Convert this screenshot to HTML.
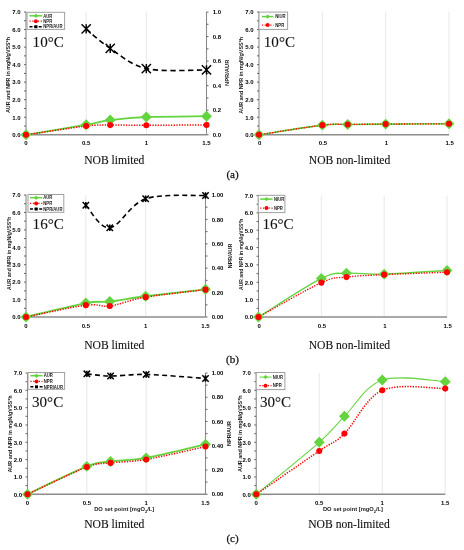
<!DOCTYPE html>
<html><head><meta charset="utf-8"><style>
html,body{margin:0;padding:0;background:#fff;}
svg{display:block;}
text{-webkit-font-smoothing:antialiased;}
svg{will-change:transform;}
.tk{font-family:"Liberation Sans",sans-serif;font-weight:bold;font-size:6px;fill:#000;}
.tt{font-family:"Liberation Sans",sans-serif;font-weight:bold;font-size:5.9px;fill:#1a1a1a;}
.do{font-family:"Liberation Sans",sans-serif;font-weight:bold;font-size:5.75px;fill:#1a1a1a;}
.lg{font-family:"Liberation Sans",sans-serif;font-weight:bold;font-size:4.9px;fill:#1a1a1a;}
.tmp{font-family:"Liberation Serif",serif;font-size:15.1px;fill:#111;stroke:#111;stroke-width:0.1px;}
.nob{font-family:"Liberation Serif",serif;font-size:11.6px;fill:#111;stroke:#111;stroke-width:0.12px;}
.pl{font-family:"Liberation Serif",serif;font-size:11px;fill:#111;stroke:#111;stroke-width:0.25px;}
</style></head><body>
<svg width="464" height="550" viewBox="0 0 464 550">
<rect width="464" height="550" fill="#fff"/>
<g>
<line x1="86.17" y1="12" x2="86.17" y2="134.8" stroke="#e2e2e2" stroke-width="0.8"/>
<line x1="146.33" y1="12" x2="146.33" y2="134.8" stroke="#e2e2e2" stroke-width="0.8"/>
<line x1="26" y1="12" x2="26" y2="134.8" stroke="#8c8c8c" stroke-width="1.1"/>
<line x1="24" y1="134.8" x2="26" y2="134.8" stroke="#555" stroke-width="0.9"/>
<line x1="24" y1="126.03" x2="26" y2="126.03" stroke="#555" stroke-width="0.9"/>
<line x1="24" y1="117.26" x2="26" y2="117.26" stroke="#555" stroke-width="0.9"/>
<line x1="24" y1="108.49" x2="26" y2="108.49" stroke="#555" stroke-width="0.9"/>
<line x1="24" y1="99.71" x2="26" y2="99.71" stroke="#555" stroke-width="0.9"/>
<line x1="24" y1="90.94" x2="26" y2="90.94" stroke="#555" stroke-width="0.9"/>
<line x1="24" y1="82.17" x2="26" y2="82.17" stroke="#555" stroke-width="0.9"/>
<line x1="24" y1="73.4" x2="26" y2="73.4" stroke="#555" stroke-width="0.9"/>
<line x1="24" y1="64.63" x2="26" y2="64.63" stroke="#555" stroke-width="0.9"/>
<line x1="24" y1="55.86" x2="26" y2="55.86" stroke="#555" stroke-width="0.9"/>
<line x1="24" y1="47.09" x2="26" y2="47.09" stroke="#555" stroke-width="0.9"/>
<line x1="24" y1="38.31" x2="26" y2="38.31" stroke="#555" stroke-width="0.9"/>
<line x1="24" y1="29.54" x2="26" y2="29.54" stroke="#555" stroke-width="0.9"/>
<line x1="24" y1="20.77" x2="26" y2="20.77" stroke="#555" stroke-width="0.9"/>
<line x1="24" y1="12" x2="26" y2="12" stroke="#555" stroke-width="0.9"/>
<text x="20.5" y="137.1" class="tk" text-anchor="end">0.0</text>
<text x="20.5" y="119.56" class="tk" text-anchor="end">1.0</text>
<text x="20.5" y="102.01" class="tk" text-anchor="end">2.0</text>
<text x="20.5" y="84.47" class="tk" text-anchor="end">3.0</text>
<text x="20.5" y="66.93" class="tk" text-anchor="end">4.0</text>
<text x="20.5" y="49.39" class="tk" text-anchor="end">5.0</text>
<text x="20.5" y="31.84" class="tk" text-anchor="end">6.0</text>
<text x="20.5" y="14.3" class="tk" text-anchor="end">7.0</text>
<line x1="26" y1="134.8" x2="206.5" y2="134.8" stroke="#8c8c8c" stroke-width="1.5"/>
<text x="26" y="145.3" class="tk" text-anchor="middle">0</text>
<text x="86.17" y="145.3" class="tk" text-anchor="middle">0.5</text>
<text x="146.33" y="145.3" class="tk" text-anchor="middle">1</text>
<text x="206.5" y="145.3" class="tk" text-anchor="middle">1.5</text>
<text transform="translate(10.2,75) rotate(-90)" class="tt" x="-38" textLength="76" lengthAdjust="spacingAndGlyphs">AUR and NPR in mgN/gVSS*h</text>
<line x1="206.5" y1="12" x2="206.5" y2="134.8" stroke="#8c8c8c" stroke-width="1.1"/>
<line x1="206.5" y1="134.8" x2="208.5" y2="134.8" stroke="#555" stroke-width="0.9"/>
<line x1="206.5" y1="122.52" x2="208.5" y2="122.52" stroke="#555" stroke-width="0.9"/>
<line x1="206.5" y1="110.24" x2="208.5" y2="110.24" stroke="#555" stroke-width="0.9"/>
<line x1="206.5" y1="97.96" x2="208.5" y2="97.96" stroke="#555" stroke-width="0.9"/>
<line x1="206.5" y1="85.68" x2="208.5" y2="85.68" stroke="#555" stroke-width="0.9"/>
<line x1="206.5" y1="73.4" x2="208.5" y2="73.4" stroke="#555" stroke-width="0.9"/>
<line x1="206.5" y1="61.12" x2="208.5" y2="61.12" stroke="#555" stroke-width="0.9"/>
<line x1="206.5" y1="48.84" x2="208.5" y2="48.84" stroke="#555" stroke-width="0.9"/>
<line x1="206.5" y1="36.56" x2="208.5" y2="36.56" stroke="#555" stroke-width="0.9"/>
<line x1="206.5" y1="24.28" x2="208.5" y2="24.28" stroke="#555" stroke-width="0.9"/>
<line x1="206.5" y1="12" x2="208.5" y2="12" stroke="#555" stroke-width="0.9"/>
<text x="212.7" y="137" class="tk">0.0</text>
<text x="212.7" y="112.44" class="tk">0.2</text>
<text x="212.7" y="87.88" class="tk">0.4</text>
<text x="212.7" y="63.32" class="tk">0.6</text>
<text x="212.7" y="38.76" class="tk">0.8</text>
<text x="212.7" y="14.2" class="tk">1.0</text>
<text transform="translate(228.6,72.8) rotate(-90)" class="tt" x="-13.1" textLength="26.2" lengthAdjust="spacingAndGlyphs">NPR/AUR</text>
<path d="M26,134.8 C36.03,133.12 72.13,127.15 86.17,124.7 C100.21,122.24 100.21,121.35 110.23,120.06 C120.26,118.78 130.29,117.64 146.33,116.99 C162.38,116.35 196.47,116.34 206.5,116.2" stroke="#64d43e" stroke-width="1.8" fill="none"/>
<path d="M26,134.8 C36.03,133.34 72.13,127.65 86.17,126.03 C100.21,124.41 100.21,125.23 110.23,125.1 C120.26,124.97 130.29,125.26 146.33,125.24 C162.38,125.22 196.47,125.02 206.5,124.98" stroke="#ff0000" stroke-width="1.5" fill="none" stroke-dasharray="1.3 1.35"/>
<path d="M86.17,28.95 C90.18,32.18 100.21,41.74 110.23,48.35 C120.26,54.96 130.29,65.01 146.33,68.61 C162.38,72.21 196.47,69.74 206.5,69.96" stroke="#000" stroke-width="1.6" fill="none" stroke-dasharray="5.3 3.5"/>
<path d="M81.57,24.35 L90.77,33.55 M81.57,33.55 L90.77,24.35 M86.17,24.35 L86.17,33.55" stroke="#000" stroke-width="1.45" fill="none"/>
<path d="M105.63,43.75 L114.83,52.95 M105.63,52.95 L114.83,43.75 M110.23,43.75 L110.23,52.95" stroke="#000" stroke-width="1.45" fill="none"/>
<path d="M141.73,64.01 L150.93,73.21 M141.73,73.21 L150.93,64.01 M146.33,64.01 L146.33,73.21" stroke="#000" stroke-width="1.45" fill="none"/>
<path d="M201.9,65.36 L211.1,74.56 M201.9,74.56 L211.1,65.36 M206.5,65.36 L206.5,74.56" stroke="#000" stroke-width="1.45" fill="none"/>
<path d="M26,129.35 L31.45,134.8 L26,140.25 L20.55,134.8 Z" fill="#64d43e"/>
<path d="M86.17,119.25 L91.62,124.7 L86.17,130.15 L80.72,124.7 Z" fill="#64d43e"/>
<path d="M110.23,114.61 L115.68,120.06 L110.23,125.51 L104.78,120.06 Z" fill="#64d43e"/>
<path d="M146.33,111.54 L151.78,116.99 L146.33,122.44 L140.88,116.99 Z" fill="#64d43e"/>
<path d="M206.5,110.75 L211.95,116.2 L206.5,121.65 L201.05,116.2 Z" fill="#64d43e"/>
<circle cx="26" cy="134.8" r="3.05" fill="#ff0000"/>
<circle cx="86.17" cy="126.03" r="3.05" fill="#ff0000"/>
<circle cx="110.23" cy="125.1" r="3.05" fill="#ff0000"/>
<circle cx="146.33" cy="125.24" r="3.05" fill="#ff0000"/>
<circle cx="206.5" cy="124.98" r="3.05" fill="#ff0000"/>
<rect x="27" y="12.3" width="37.6" height="17.1" fill="#fff" stroke="#a0a0a0" stroke-width="1"/>
<line x1="29.5" y1="15.8" x2="42.3" y2="15.8" stroke="#64d43e" stroke-width="1.5"/>
<path d="M35.9,13.6 L38.1,15.8 L35.9,18 L33.7,15.8 Z" fill="#64d43e"/>
<text x="43.3" y="17.55" class="lg" textLength="9.1" lengthAdjust="spacingAndGlyphs">AUR</text>
<line x1="29.5" y1="21.2" x2="42.3" y2="21.2" stroke="#ff0000" stroke-width="1.3" stroke-dasharray="1.2 1.6"/>
<circle cx="35.9" cy="21.2" r="2" fill="#ff0000"/>
<text x="43.3" y="22.95" class="lg" textLength="8.87" lengthAdjust="spacingAndGlyphs">NPR</text>
<line x1="29.5" y1="26.7" x2="42.3" y2="26.7" stroke="#000" stroke-width="1.4" stroke-dasharray="3 1.6"/>
<rect x="34.4" y="25.2" width="3" height="3" fill="#000"/>
<text x="43.3" y="28.45" class="lg" textLength="19.13" lengthAdjust="spacingAndGlyphs">NPR/AUR</text>
<text x="32.6" y="47.4" class="tmp">10°C</text>
<text x="114.3" y="164.3" class="nob" text-anchor="middle">NOB limited</text>
</g>
<g>
<line x1="322.33" y1="12" x2="322.33" y2="134.8" stroke="#e2e2e2" stroke-width="0.8"/>
<line x1="385.67" y1="12" x2="385.67" y2="134.8" stroke="#e2e2e2" stroke-width="0.8"/>
<line x1="449" y1="12" x2="449" y2="134.8" stroke="#e2e2e2" stroke-width="0.8"/>
<line x1="259" y1="12" x2="259" y2="134.8" stroke="#8c8c8c" stroke-width="1.1"/>
<line x1="257" y1="134.8" x2="259" y2="134.8" stroke="#555" stroke-width="0.9"/>
<line x1="257" y1="126.03" x2="259" y2="126.03" stroke="#555" stroke-width="0.9"/>
<line x1="257" y1="117.26" x2="259" y2="117.26" stroke="#555" stroke-width="0.9"/>
<line x1="257" y1="108.49" x2="259" y2="108.49" stroke="#555" stroke-width="0.9"/>
<line x1="257" y1="99.71" x2="259" y2="99.71" stroke="#555" stroke-width="0.9"/>
<line x1="257" y1="90.94" x2="259" y2="90.94" stroke="#555" stroke-width="0.9"/>
<line x1="257" y1="82.17" x2="259" y2="82.17" stroke="#555" stroke-width="0.9"/>
<line x1="257" y1="73.4" x2="259" y2="73.4" stroke="#555" stroke-width="0.9"/>
<line x1="257" y1="64.63" x2="259" y2="64.63" stroke="#555" stroke-width="0.9"/>
<line x1="257" y1="55.86" x2="259" y2="55.86" stroke="#555" stroke-width="0.9"/>
<line x1="257" y1="47.09" x2="259" y2="47.09" stroke="#555" stroke-width="0.9"/>
<line x1="257" y1="38.31" x2="259" y2="38.31" stroke="#555" stroke-width="0.9"/>
<line x1="257" y1="29.54" x2="259" y2="29.54" stroke="#555" stroke-width="0.9"/>
<line x1="257" y1="20.77" x2="259" y2="20.77" stroke="#555" stroke-width="0.9"/>
<line x1="257" y1="12" x2="259" y2="12" stroke="#555" stroke-width="0.9"/>
<text x="253.5" y="137.1" class="tk" text-anchor="end">0.0</text>
<text x="253.5" y="119.56" class="tk" text-anchor="end">1.0</text>
<text x="253.5" y="102.01" class="tk" text-anchor="end">2.0</text>
<text x="253.5" y="84.47" class="tk" text-anchor="end">3.0</text>
<text x="253.5" y="66.93" class="tk" text-anchor="end">4.0</text>
<text x="253.5" y="49.39" class="tk" text-anchor="end">5.0</text>
<text x="253.5" y="31.84" class="tk" text-anchor="end">6.0</text>
<text x="253.5" y="14.3" class="tk" text-anchor="end">7.0</text>
<line x1="259" y1="134.8" x2="449" y2="134.8" stroke="#8c8c8c" stroke-width="1.5"/>
<text x="259.7" y="145.3" class="tk" text-anchor="middle">0</text>
<text x="323.03" y="145.3" class="tk" text-anchor="middle">0.5</text>
<text x="386.37" y="145.3" class="tk" text-anchor="middle">1</text>
<text x="449.7" y="145.3" class="tk" text-anchor="middle">1.5</text>
<text transform="translate(242.5,75.3) rotate(-90)" class="tt" x="-38.35" textLength="76.7" lengthAdjust="spacingAndGlyphs">AUR and NPR in mgN/gVSS*h</text>
<path d="M259,134.8 C269.56,133.19 307.56,126.88 322.33,125.15 C337.11,123.43 337.11,124.63 347.67,124.45 C358.22,124.27 368.78,124.22 385.67,124.1 C402.56,123.98 438.44,123.81 449,123.75" stroke="#64d43e" stroke-width="1.6" fill="none"/>
<path d="M259,134.8 C269.56,133.19 307.56,126.88 322.33,125.15 C337.11,123.43 337.11,124.63 347.67,124.45 C358.22,124.27 368.78,124.22 385.67,124.1 C402.56,123.98 438.44,123.81 449,123.75" stroke="#ff0000" stroke-width="1.3" fill="none" stroke-dasharray="1.3 1.35"/>
<path d="M259,129.35 L264.45,134.8 L259,140.25 L253.55,134.8 Z" fill="#64d43e"/>
<path d="M322.33,119.7 L327.78,125.15 L322.33,130.6 L316.88,125.15 Z" fill="#64d43e"/>
<path d="M347.67,119 L353.12,124.45 L347.67,129.9 L342.22,124.45 Z" fill="#64d43e"/>
<path d="M385.67,118.65 L391.12,124.1 L385.67,129.55 L380.22,124.1 Z" fill="#64d43e"/>
<path d="M449,118.3 L454.45,123.75 L449,129.2 L443.55,123.75 Z" fill="#64d43e"/>
<circle cx="259" cy="134.8" r="3.05" fill="#ff0000"/>
<circle cx="322.33" cy="125.15" r="3.05" fill="#ff0000"/>
<circle cx="347.67" cy="124.45" r="3.05" fill="#ff0000"/>
<circle cx="385.67" cy="124.1" r="3.05" fill="#ff0000"/>
<circle cx="449" cy="123.75" r="3.05" fill="#ff0000"/>
<rect x="259" y="12.1" width="28.6" height="17.3" fill="#fff" stroke="#a0a0a0" stroke-width="1"/>
<line x1="261.9" y1="16.6" x2="273.5" y2="16.6" stroke="#64d43e" stroke-width="1.5"/>
<path d="M267.7,14.4 L269.9,16.6 L267.7,18.8 L265.5,16.6 Z" fill="#64d43e"/>
<text x="275.3" y="18.35" class="lg" textLength="10.27" lengthAdjust="spacingAndGlyphs">NIUR</text>
<line x1="261.9" y1="25.1" x2="273.5" y2="25.1" stroke="#ff0000" stroke-width="1.3" stroke-dasharray="1.2 1.6"/>
<circle cx="267.7" cy="25.1" r="2" fill="#ff0000"/>
<text x="275.3" y="26.85" class="lg" textLength="8.87" lengthAdjust="spacingAndGlyphs">NPR</text>
<text x="263.8" y="46.5" class="tmp">10°C</text>
<text x="349.6" y="164.3" class="nob" text-anchor="middle">NOB non-limited</text>
</g>
<g>
<line x1="85.83" y1="195" x2="85.83" y2="317" stroke="#e2e2e2" stroke-width="0.8"/>
<line x1="145.67" y1="195" x2="145.67" y2="317" stroke="#e2e2e2" stroke-width="0.8"/>
<line x1="26" y1="195" x2="26" y2="317" stroke="#8c8c8c" stroke-width="1.1"/>
<line x1="24" y1="317" x2="26" y2="317" stroke="#555" stroke-width="0.9"/>
<line x1="24" y1="308.29" x2="26" y2="308.29" stroke="#555" stroke-width="0.9"/>
<line x1="24" y1="299.57" x2="26" y2="299.57" stroke="#555" stroke-width="0.9"/>
<line x1="24" y1="290.86" x2="26" y2="290.86" stroke="#555" stroke-width="0.9"/>
<line x1="24" y1="282.14" x2="26" y2="282.14" stroke="#555" stroke-width="0.9"/>
<line x1="24" y1="273.43" x2="26" y2="273.43" stroke="#555" stroke-width="0.9"/>
<line x1="24" y1="264.71" x2="26" y2="264.71" stroke="#555" stroke-width="0.9"/>
<line x1="24" y1="256" x2="26" y2="256" stroke="#555" stroke-width="0.9"/>
<line x1="24" y1="247.29" x2="26" y2="247.29" stroke="#555" stroke-width="0.9"/>
<line x1="24" y1="238.57" x2="26" y2="238.57" stroke="#555" stroke-width="0.9"/>
<line x1="24" y1="229.86" x2="26" y2="229.86" stroke="#555" stroke-width="0.9"/>
<line x1="24" y1="221.14" x2="26" y2="221.14" stroke="#555" stroke-width="0.9"/>
<line x1="24" y1="212.43" x2="26" y2="212.43" stroke="#555" stroke-width="0.9"/>
<line x1="24" y1="203.71" x2="26" y2="203.71" stroke="#555" stroke-width="0.9"/>
<line x1="24" y1="195" x2="26" y2="195" stroke="#555" stroke-width="0.9"/>
<text x="20.5" y="319.3" class="tk" text-anchor="end">0.0</text>
<text x="20.5" y="301.87" class="tk" text-anchor="end">1.0</text>
<text x="20.5" y="284.44" class="tk" text-anchor="end">2.0</text>
<text x="20.5" y="267.01" class="tk" text-anchor="end">3.0</text>
<text x="20.5" y="249.59" class="tk" text-anchor="end">4.0</text>
<text x="20.5" y="232.16" class="tk" text-anchor="end">5.0</text>
<text x="20.5" y="214.73" class="tk" text-anchor="end">6.0</text>
<text x="20.5" y="197.3" class="tk" text-anchor="end">7.0</text>
<line x1="26" y1="317" x2="205.5" y2="317" stroke="#8c8c8c" stroke-width="1.5"/>
<text x="26" y="327.5" class="tk" text-anchor="middle">0</text>
<text x="85.83" y="327.5" class="tk" text-anchor="middle">0.5</text>
<text x="145.67" y="327.5" class="tk" text-anchor="middle">1</text>
<text x="205.5" y="327.5" class="tk" text-anchor="middle">1.5</text>
<text transform="translate(10.6,253.3) rotate(-90)" class="tt" x="-36.7" textLength="73.4" lengthAdjust="spacingAndGlyphs">AUR and NPR in mgN/gVSS*h</text>
<line x1="205.5" y1="195" x2="205.5" y2="317" stroke="#8c8c8c" stroke-width="1.1"/>
<line x1="205.5" y1="317" x2="207.5" y2="317" stroke="#555" stroke-width="0.9"/>
<line x1="205.5" y1="304.8" x2="207.5" y2="304.8" stroke="#555" stroke-width="0.9"/>
<line x1="205.5" y1="292.6" x2="207.5" y2="292.6" stroke="#555" stroke-width="0.9"/>
<line x1="205.5" y1="280.4" x2="207.5" y2="280.4" stroke="#555" stroke-width="0.9"/>
<line x1="205.5" y1="268.2" x2="207.5" y2="268.2" stroke="#555" stroke-width="0.9"/>
<line x1="205.5" y1="256" x2="207.5" y2="256" stroke="#555" stroke-width="0.9"/>
<line x1="205.5" y1="243.8" x2="207.5" y2="243.8" stroke="#555" stroke-width="0.9"/>
<line x1="205.5" y1="231.6" x2="207.5" y2="231.6" stroke="#555" stroke-width="0.9"/>
<line x1="205.5" y1="219.4" x2="207.5" y2="219.4" stroke="#555" stroke-width="0.9"/>
<line x1="205.5" y1="207.2" x2="207.5" y2="207.2" stroke="#555" stroke-width="0.9"/>
<line x1="205.5" y1="195" x2="207.5" y2="195" stroke="#555" stroke-width="0.9"/>
<text x="211.7" y="319.2" class="tk">0.00</text>
<text x="211.7" y="294.8" class="tk">0.20</text>
<text x="211.7" y="270.4" class="tk">0.40</text>
<text x="211.7" y="246" class="tk">0.60</text>
<text x="211.7" y="221.6" class="tk">0.80</text>
<text x="211.7" y="197.2" class="tk">1.00</text>
<text transform="translate(231.6,255.9) rotate(-90)" class="tt" x="-12.3" textLength="24.6" lengthAdjust="spacingAndGlyphs">NPR/AUR</text>
<path d="M26,317 C35.97,314.68 71.87,305.64 85.83,303.06 C99.79,300.47 99.79,302.62 109.77,301.49 C119.74,300.36 129.71,298.29 145.67,296.26 C161.62,294.23 195.53,290.45 205.5,289.29" stroke="#64d43e" stroke-width="1.8" fill="none"/>
<path d="M26,317 C35.97,315.02 71.87,306.98 85.83,305.15 C99.79,303.32 99.79,307.36 109.77,306.02 C119.74,304.68 129.71,299.86 145.67,297.13 C161.62,294.4 195.53,290.89 205.5,289.64" stroke="#ff0000" stroke-width="1.5" fill="none" stroke-dasharray="1.3 1.35"/>
<path d="M85.83,205.25 C89.82,209.01 99.79,228.9 109.77,227.82 C119.74,226.74 129.71,204.17 145.67,198.78 C161.62,193.39 195.53,196.04 205.5,195.49" stroke="#000" stroke-width="1.6" fill="none" stroke-dasharray="5 3.4"/>
<path d="M82.63,202.05 L89.03,208.45 M82.63,208.45 L89.03,202.05 M85.83,202.05 L85.83,208.45" stroke="#000" stroke-width="1.5" fill="none"/>
<path d="M106.57,224.62 L112.97,231.02 M106.57,231.02 L112.97,224.62 M109.77,224.62 L109.77,231.02" stroke="#000" stroke-width="1.5" fill="none"/>
<path d="M142.47,195.58 L148.87,201.98 M142.47,201.98 L148.87,195.58 M145.67,195.58 L145.67,201.98" stroke="#000" stroke-width="1.5" fill="none"/>
<path d="M202.3,192.29 L208.7,198.69 M202.3,198.69 L208.7,192.29 M205.5,192.29 L205.5,198.69" stroke="#000" stroke-width="1.5" fill="none"/>
<path d="M26,311.55 L31.45,317 L26,322.45 L20.55,317 Z" fill="#64d43e"/>
<path d="M85.83,297.61 L91.28,303.06 L85.83,308.51 L80.38,303.06 Z" fill="#64d43e"/>
<path d="M109.77,296.04 L115.22,301.49 L109.77,306.94 L104.32,301.49 Z" fill="#64d43e"/>
<path d="M145.67,290.81 L151.12,296.26 L145.67,301.71 L140.22,296.26 Z" fill="#64d43e"/>
<path d="M205.5,283.84 L210.95,289.29 L205.5,294.74 L200.05,289.29 Z" fill="#64d43e"/>
<circle cx="26" cy="317" r="3.05" fill="#ff0000"/>
<circle cx="85.83" cy="305.15" r="3.05" fill="#ff0000"/>
<circle cx="109.77" cy="306.02" r="3.05" fill="#ff0000"/>
<circle cx="145.67" cy="297.13" r="3.05" fill="#ff0000"/>
<circle cx="205.5" cy="289.64" r="3.05" fill="#ff0000"/>
<rect x="28" y="194.5" width="35.8" height="17.8" fill="#fff" stroke="#a0a0a0" stroke-width="1"/>
<line x1="30" y1="197.7" x2="42.3" y2="197.7" stroke="#64d43e" stroke-width="1.5"/>
<path d="M36.15,195.5 L38.35,197.7 L36.15,199.9 L33.95,197.7 Z" fill="#64d43e"/>
<text x="43.3" y="199.45" class="lg" textLength="9.1" lengthAdjust="spacingAndGlyphs">AUR</text>
<line x1="30" y1="203.4" x2="42.3" y2="203.4" stroke="#ff0000" stroke-width="1.3" stroke-dasharray="1.2 1.6"/>
<circle cx="36.15" cy="203.4" r="2" fill="#ff0000"/>
<text x="43.3" y="205.15" class="lg" textLength="8.87" lengthAdjust="spacingAndGlyphs">NPR</text>
<line x1="30" y1="209" x2="42.3" y2="209" stroke="#000" stroke-width="1.4" stroke-dasharray="3 1.6"/>
<rect x="34.65" y="207.5" width="3" height="3" fill="#000"/>
<text x="43.3" y="210.75" class="lg" textLength="19.13" lengthAdjust="spacingAndGlyphs">NPR/AUR</text>
<text x="32.6" y="228.9" class="tmp">16°C</text>
<text x="114.3" y="349.2" class="nob" text-anchor="middle">NOB limited</text>
</g>
<g>
<line x1="321.33" y1="195.5" x2="321.33" y2="317" stroke="#e2e2e2" stroke-width="0.8"/>
<line x1="384.17" y1="195.5" x2="384.17" y2="317" stroke="#e2e2e2" stroke-width="0.8"/>
<line x1="447" y1="195.5" x2="447" y2="317" stroke="#e2e2e2" stroke-width="0.8"/>
<line x1="258.5" y1="195.5" x2="258.5" y2="317" stroke="#8c8c8c" stroke-width="1.1"/>
<line x1="256.5" y1="317" x2="258.5" y2="317" stroke="#555" stroke-width="0.9"/>
<line x1="256.5" y1="308.32" x2="258.5" y2="308.32" stroke="#555" stroke-width="0.9"/>
<line x1="256.5" y1="299.64" x2="258.5" y2="299.64" stroke="#555" stroke-width="0.9"/>
<line x1="256.5" y1="290.96" x2="258.5" y2="290.96" stroke="#555" stroke-width="0.9"/>
<line x1="256.5" y1="282.29" x2="258.5" y2="282.29" stroke="#555" stroke-width="0.9"/>
<line x1="256.5" y1="273.61" x2="258.5" y2="273.61" stroke="#555" stroke-width="0.9"/>
<line x1="256.5" y1="264.93" x2="258.5" y2="264.93" stroke="#555" stroke-width="0.9"/>
<line x1="256.5" y1="256.25" x2="258.5" y2="256.25" stroke="#555" stroke-width="0.9"/>
<line x1="256.5" y1="247.57" x2="258.5" y2="247.57" stroke="#555" stroke-width="0.9"/>
<line x1="256.5" y1="238.89" x2="258.5" y2="238.89" stroke="#555" stroke-width="0.9"/>
<line x1="256.5" y1="230.21" x2="258.5" y2="230.21" stroke="#555" stroke-width="0.9"/>
<line x1="256.5" y1="221.54" x2="258.5" y2="221.54" stroke="#555" stroke-width="0.9"/>
<line x1="256.5" y1="212.86" x2="258.5" y2="212.86" stroke="#555" stroke-width="0.9"/>
<line x1="256.5" y1="204.18" x2="258.5" y2="204.18" stroke="#555" stroke-width="0.9"/>
<line x1="256.5" y1="195.5" x2="258.5" y2="195.5" stroke="#555" stroke-width="0.9"/>
<text x="253" y="319.3" class="tk" text-anchor="end">0.0</text>
<text x="253" y="301.94" class="tk" text-anchor="end">1.0</text>
<text x="253" y="284.59" class="tk" text-anchor="end">2.0</text>
<text x="253" y="267.23" class="tk" text-anchor="end">3.0</text>
<text x="253" y="249.87" class="tk" text-anchor="end">4.0</text>
<text x="253" y="232.51" class="tk" text-anchor="end">5.0</text>
<text x="253" y="215.16" class="tk" text-anchor="end">6.0</text>
<text x="253" y="197.8" class="tk" text-anchor="end">7.0</text>
<line x1="258.5" y1="317" x2="447" y2="317" stroke="#8c8c8c" stroke-width="1.5"/>
<text x="259.2" y="327.5" class="tk" text-anchor="middle">0</text>
<text x="322.03" y="327.5" class="tk" text-anchor="middle">0.5</text>
<text x="384.87" y="327.5" class="tk" text-anchor="middle">1</text>
<text x="447.7" y="327.5" class="tk" text-anchor="middle">1.5</text>
<text transform="translate(242.5,254.3) rotate(-90)" class="tt" x="-35.7" textLength="71.4" lengthAdjust="spacingAndGlyphs">AUR and NPR in mgN/gVSS*h</text>
<path d="M258.5,317 C268.97,310.58 306.67,285.76 321.33,278.47 C335.99,271.18 335.99,273.98 346.47,273.26 C356.94,272.54 367.41,274.59 384.17,274.13 C400.92,273.66 436.53,271.09 447,270.48" stroke="#64d43e" stroke-width="1.4" fill="none"/>
<path d="M258.5,317 C268.97,311.27 306.67,289.29 321.33,282.63 C335.99,275.98 335.99,278.41 346.47,277.08 C356.94,275.75 367.41,275.46 384.17,274.65 C400.92,273.84 436.53,272.62 447,272.22" stroke="#ff0000" stroke-width="1.35" fill="none" stroke-dasharray="1.3 1.35"/>
<path d="M258.5,311.55 L263.95,317 L258.5,322.45 L253.05,317 Z" fill="#64d43e"/>
<path d="M321.33,273.02 L326.78,278.47 L321.33,283.92 L315.88,278.47 Z" fill="#64d43e"/>
<path d="M346.47,267.81 L351.92,273.26 L346.47,278.71 L341.02,273.26 Z" fill="#64d43e"/>
<path d="M384.17,268.68 L389.62,274.13 L384.17,279.58 L378.72,274.13 Z" fill="#64d43e"/>
<path d="M447,265.03 L452.45,270.48 L447,275.93 L441.55,270.48 Z" fill="#64d43e"/>
<circle cx="258.5" cy="317" r="3.05" fill="#ff0000"/>
<circle cx="321.33" cy="282.63" r="3.05" fill="#ff0000"/>
<circle cx="346.47" cy="277.08" r="3.05" fill="#ff0000"/>
<circle cx="384.17" cy="274.65" r="3.05" fill="#ff0000"/>
<circle cx="447" cy="272.22" r="3.05" fill="#ff0000"/>
<rect x="258.2" y="195.3" width="26.7" height="17.3" fill="#fff" stroke="#a0a0a0" stroke-width="1"/>
<line x1="260.2" y1="199.1" x2="272.7" y2="199.1" stroke="#64d43e" stroke-width="1.5"/>
<path d="M266.45,196.9 L268.65,199.1 L266.45,201.3 L264.25,199.1 Z" fill="#64d43e"/>
<text x="274" y="200.85" class="lg" textLength="10.27" lengthAdjust="spacingAndGlyphs">NIUR</text>
<line x1="260.2" y1="208.1" x2="272.7" y2="208.1" stroke="#ff0000" stroke-width="1.3" stroke-dasharray="1.2 1.6"/>
<circle cx="266.45" cy="208.1" r="2" fill="#ff0000"/>
<text x="274" y="209.85" class="lg" textLength="8.87" lengthAdjust="spacingAndGlyphs">NPR</text>
<text x="262.4" y="228.5" class="tmp">16°C</text>
<text x="349.4" y="349.2" class="nob" text-anchor="middle">NOB non-limited</text>
</g>
<g>
<line x1="86.83" y1="373" x2="86.83" y2="494.25" stroke="#e2e2e2" stroke-width="0.8"/>
<line x1="146.17" y1="373" x2="146.17" y2="494.25" stroke="#e2e2e2" stroke-width="0.8"/>
<line x1="27.5" y1="373" x2="27.5" y2="494.25" stroke="#8c8c8c" stroke-width="1.1"/>
<line x1="25.5" y1="494.25" x2="27.5" y2="494.25" stroke="#555" stroke-width="0.9"/>
<line x1="25.5" y1="485.59" x2="27.5" y2="485.59" stroke="#555" stroke-width="0.9"/>
<line x1="25.5" y1="476.93" x2="27.5" y2="476.93" stroke="#555" stroke-width="0.9"/>
<line x1="25.5" y1="468.27" x2="27.5" y2="468.27" stroke="#555" stroke-width="0.9"/>
<line x1="25.5" y1="459.61" x2="27.5" y2="459.61" stroke="#555" stroke-width="0.9"/>
<line x1="25.5" y1="450.95" x2="27.5" y2="450.95" stroke="#555" stroke-width="0.9"/>
<line x1="25.5" y1="442.29" x2="27.5" y2="442.29" stroke="#555" stroke-width="0.9"/>
<line x1="25.5" y1="433.62" x2="27.5" y2="433.62" stroke="#555" stroke-width="0.9"/>
<line x1="25.5" y1="424.96" x2="27.5" y2="424.96" stroke="#555" stroke-width="0.9"/>
<line x1="25.5" y1="416.3" x2="27.5" y2="416.3" stroke="#555" stroke-width="0.9"/>
<line x1="25.5" y1="407.64" x2="27.5" y2="407.64" stroke="#555" stroke-width="0.9"/>
<line x1="25.5" y1="398.98" x2="27.5" y2="398.98" stroke="#555" stroke-width="0.9"/>
<line x1="25.5" y1="390.32" x2="27.5" y2="390.32" stroke="#555" stroke-width="0.9"/>
<line x1="25.5" y1="381.66" x2="27.5" y2="381.66" stroke="#555" stroke-width="0.9"/>
<line x1="25.5" y1="373" x2="27.5" y2="373" stroke="#555" stroke-width="0.9"/>
<text x="22" y="496.55" class="tk" text-anchor="end">0.0</text>
<text x="22" y="479.23" class="tk" text-anchor="end">1.0</text>
<text x="22" y="461.91" class="tk" text-anchor="end">2.0</text>
<text x="22" y="444.59" class="tk" text-anchor="end">3.0</text>
<text x="22" y="427.26" class="tk" text-anchor="end">4.0</text>
<text x="22" y="409.94" class="tk" text-anchor="end">5.0</text>
<text x="22" y="392.62" class="tk" text-anchor="end">6.0</text>
<text x="22" y="375.3" class="tk" text-anchor="end">7.0</text>
<line x1="27.5" y1="494.25" x2="205.5" y2="494.25" stroke="#8c8c8c" stroke-width="1.5"/>
<text x="27.5" y="504.75" class="tk" text-anchor="middle">0</text>
<text x="86.83" y="504.75" class="tk" text-anchor="middle">0.5</text>
<text x="146.17" y="504.75" class="tk" text-anchor="middle">1</text>
<text x="205.5" y="504.75" class="tk" text-anchor="middle">1.5</text>
<text transform="translate(11.6,434) rotate(-90)" class="tt" x="-38.6" textLength="77.2" lengthAdjust="spacingAndGlyphs">AUR and NPR in mgN/gVSS*h</text>
<line x1="205.5" y1="373" x2="205.5" y2="494.25" stroke="#8c8c8c" stroke-width="1.1"/>
<line x1="205.5" y1="494.25" x2="207.5" y2="494.25" stroke="#555" stroke-width="0.9"/>
<line x1="205.5" y1="482.12" x2="207.5" y2="482.12" stroke="#555" stroke-width="0.9"/>
<line x1="205.5" y1="470" x2="207.5" y2="470" stroke="#555" stroke-width="0.9"/>
<line x1="205.5" y1="457.88" x2="207.5" y2="457.88" stroke="#555" stroke-width="0.9"/>
<line x1="205.5" y1="445.75" x2="207.5" y2="445.75" stroke="#555" stroke-width="0.9"/>
<line x1="205.5" y1="433.62" x2="207.5" y2="433.62" stroke="#555" stroke-width="0.9"/>
<line x1="205.5" y1="421.5" x2="207.5" y2="421.5" stroke="#555" stroke-width="0.9"/>
<line x1="205.5" y1="409.38" x2="207.5" y2="409.38" stroke="#555" stroke-width="0.9"/>
<line x1="205.5" y1="397.25" x2="207.5" y2="397.25" stroke="#555" stroke-width="0.9"/>
<line x1="205.5" y1="385.12" x2="207.5" y2="385.12" stroke="#555" stroke-width="0.9"/>
<line x1="205.5" y1="373" x2="207.5" y2="373" stroke="#555" stroke-width="0.9"/>
<text x="211.7" y="496.45" class="tk">0.00</text>
<text x="211.7" y="472.2" class="tk">0.20</text>
<text x="211.7" y="447.95" class="tk">0.40</text>
<text x="211.7" y="423.7" class="tk">0.60</text>
<text x="211.7" y="399.45" class="tk">0.80</text>
<text x="211.7" y="375.2" class="tk">1.00</text>
<text transform="translate(231.4,433.5) rotate(-90)" class="tt" x="-12.4" textLength="24.8" lengthAdjust="spacingAndGlyphs">NPR/AUR</text>
<path d="M27.5,494.25 C37.39,489.6 72.99,471.82 86.83,466.36 C100.68,460.91 100.68,462.93 110.57,461.51 C120.46,460.1 130.34,460.73 146.17,457.88 C161.99,455.02 195.61,446.62 205.5,444.36" stroke="#64d43e" stroke-width="1.8" fill="none"/>
<path d="M27.5,494.25 C37.39,489.72 72.99,472.28 86.83,467.06 C100.68,461.83 100.68,464.17 110.57,462.9 C120.46,461.63 130.34,462.15 146.17,459.43 C161.99,456.72 195.61,448.75 205.5,446.62" stroke="#ff0000" stroke-width="1.5" fill="none" stroke-dasharray="1.3 1.35"/>
<path d="M86.83,373.85 C90.79,374.21 100.68,375.93 110.57,376.03 C120.46,376.13 130.34,374.05 146.17,374.45 C161.99,374.86 195.61,377.79 205.5,378.46" stroke="#000" stroke-width="1.6" fill="none" stroke-dasharray="5 3.4"/>
<path d="M83.63,370.65 L90.03,377.05 M83.63,377.05 L90.03,370.65 M86.83,370.65 L86.83,377.05" stroke="#000" stroke-width="1.5" fill="none"/>
<path d="M107.37,372.83 L113.77,379.23 M107.37,379.23 L113.77,372.83 M110.57,372.83 L110.57,379.23" stroke="#000" stroke-width="1.5" fill="none"/>
<path d="M142.97,371.25 L149.37,377.65 M142.97,377.65 L149.37,371.25 M146.17,371.25 L146.17,377.65" stroke="#000" stroke-width="1.5" fill="none"/>
<path d="M202.3,375.26 L208.7,381.66 M202.3,381.66 L208.7,375.26 M205.5,375.26 L205.5,381.66" stroke="#000" stroke-width="1.5" fill="none"/>
<path d="M27.5,488.8 L32.95,494.25 L27.5,499.7 L22.05,494.25 Z" fill="#64d43e"/>
<path d="M86.83,460.91 L92.28,466.36 L86.83,471.81 L81.38,466.36 Z" fill="#64d43e"/>
<path d="M110.57,456.06 L116.02,461.51 L110.57,466.96 L105.12,461.51 Z" fill="#64d43e"/>
<path d="M146.17,452.43 L151.62,457.88 L146.17,463.32 L140.72,457.88 Z" fill="#64d43e"/>
<path d="M205.5,438.91 L210.95,444.36 L205.5,449.81 L200.05,444.36 Z" fill="#64d43e"/>
<circle cx="27.5" cy="494.25" r="3.05" fill="#ff0000"/>
<circle cx="86.83" cy="467.06" r="3.05" fill="#ff0000"/>
<circle cx="110.57" cy="462.9" r="3.05" fill="#ff0000"/>
<circle cx="146.17" cy="459.43" r="3.05" fill="#ff0000"/>
<circle cx="205.5" cy="446.62" r="3.05" fill="#ff0000"/>
<rect x="28" y="372.5" width="36.6" height="16.8" fill="#fff" stroke="#a0a0a0" stroke-width="1"/>
<line x1="30.4" y1="375.7" x2="42.6" y2="375.7" stroke="#64d43e" stroke-width="1.5"/>
<path d="M36.5,373.5 L38.7,375.7 L36.5,377.9 L34.3,375.7 Z" fill="#64d43e"/>
<text x="43.8" y="377.45" class="lg" textLength="9.1" lengthAdjust="spacingAndGlyphs">AUR</text>
<line x1="30.4" y1="381.4" x2="42.6" y2="381.4" stroke="#ff0000" stroke-width="1.3" stroke-dasharray="1.2 1.6"/>
<circle cx="36.5" cy="381.4" r="2" fill="#ff0000"/>
<text x="43.8" y="383.15" class="lg" textLength="8.87" lengthAdjust="spacingAndGlyphs">NPR</text>
<line x1="30.4" y1="386.8" x2="42.6" y2="386.8" stroke="#000" stroke-width="1.4" stroke-dasharray="3 1.6"/>
<rect x="35" y="385.3" width="3" height="3" fill="#000"/>
<text x="43.8" y="388.55" class="lg" textLength="19.13" lengthAdjust="spacingAndGlyphs">NPR/AUR</text>
<text x="32" y="406.9" class="tmp">30°C</text>
<text x="114.3" y="527.5" class="nob" text-anchor="middle">NOB limited</text>
<text x="124.2" y="511.3" class="do" text-anchor="middle">DO set point [mgO<tspan font-size="4" dy="1.3">2</tspan><tspan dy="-1.3">/L]</tspan></text>
</g>
<g>
<line x1="319.25" y1="373" x2="319.25" y2="494.25" stroke="#e2e2e2" stroke-width="0.8"/>
<line x1="382.25" y1="373" x2="382.25" y2="494.25" stroke="#e2e2e2" stroke-width="0.8"/>
<line x1="445.25" y1="373" x2="445.25" y2="494.25" stroke="#e2e2e2" stroke-width="0.8"/>
<line x1="256.25" y1="373" x2="256.25" y2="494.25" stroke="#8c8c8c" stroke-width="1.1"/>
<line x1="254.25" y1="494.25" x2="256.25" y2="494.25" stroke="#555" stroke-width="0.9"/>
<line x1="254.25" y1="485.59" x2="256.25" y2="485.59" stroke="#555" stroke-width="0.9"/>
<line x1="254.25" y1="476.93" x2="256.25" y2="476.93" stroke="#555" stroke-width="0.9"/>
<line x1="254.25" y1="468.27" x2="256.25" y2="468.27" stroke="#555" stroke-width="0.9"/>
<line x1="254.25" y1="459.61" x2="256.25" y2="459.61" stroke="#555" stroke-width="0.9"/>
<line x1="254.25" y1="450.95" x2="256.25" y2="450.95" stroke="#555" stroke-width="0.9"/>
<line x1="254.25" y1="442.29" x2="256.25" y2="442.29" stroke="#555" stroke-width="0.9"/>
<line x1="254.25" y1="433.62" x2="256.25" y2="433.62" stroke="#555" stroke-width="0.9"/>
<line x1="254.25" y1="424.96" x2="256.25" y2="424.96" stroke="#555" stroke-width="0.9"/>
<line x1="254.25" y1="416.3" x2="256.25" y2="416.3" stroke="#555" stroke-width="0.9"/>
<line x1="254.25" y1="407.64" x2="256.25" y2="407.64" stroke="#555" stroke-width="0.9"/>
<line x1="254.25" y1="398.98" x2="256.25" y2="398.98" stroke="#555" stroke-width="0.9"/>
<line x1="254.25" y1="390.32" x2="256.25" y2="390.32" stroke="#555" stroke-width="0.9"/>
<line x1="254.25" y1="381.66" x2="256.25" y2="381.66" stroke="#555" stroke-width="0.9"/>
<line x1="254.25" y1="373" x2="256.25" y2="373" stroke="#555" stroke-width="0.9"/>
<text x="250.75" y="496.55" class="tk" text-anchor="end">0.0</text>
<text x="250.75" y="479.23" class="tk" text-anchor="end">1.0</text>
<text x="250.75" y="461.91" class="tk" text-anchor="end">2.0</text>
<text x="250.75" y="444.59" class="tk" text-anchor="end">3.0</text>
<text x="250.75" y="427.26" class="tk" text-anchor="end">4.0</text>
<text x="250.75" y="409.94" class="tk" text-anchor="end">5.0</text>
<text x="250.75" y="392.62" class="tk" text-anchor="end">6.0</text>
<text x="250.75" y="375.3" class="tk" text-anchor="end">7.0</text>
<line x1="256.25" y1="494.25" x2="445.25" y2="494.25" stroke="#8c8c8c" stroke-width="1.5"/>
<text x="256.05" y="504.75" class="tk" text-anchor="middle">0</text>
<text x="319.05" y="504.75" class="tk" text-anchor="middle">0.5</text>
<text x="382.05" y="504.75" class="tk" text-anchor="middle">1</text>
<text x="445.05" y="504.75" class="tk" text-anchor="middle">1.5</text>
<text transform="translate(242.1,433.7) rotate(-90)" class="tt" x="-38.3" textLength="76.6" lengthAdjust="spacingAndGlyphs">AUR and NPR in mgN/gVSS*h</text>
<path d="M256.25,494.25 C266.75,485.59 304.55,455.28 319.25,442.29 C333.95,429.29 333.95,426.7 344.45,416.3 C354.95,405.91 365.45,385.7 382.25,379.93 C399.05,374.15 434.75,381.37 445.25,381.66" stroke="#64d43e" stroke-width="1.05" fill="none"/>
<path d="M256.25,494.25 C266.75,487.03 304.55,461.05 319.25,450.95 C333.95,440.84 333.95,443.73 344.45,433.62 C354.95,423.52 365.45,397.83 382.25,390.32 C399.05,382.82 434.75,388.88 445.25,388.59" stroke="#ff0000" stroke-width="1.55" fill="none" stroke-dasharray="1.3 1.35"/>
<path d="M256.25,488.8 L261.7,494.25 L256.25,499.7 L250.8,494.25 Z" fill="#64d43e"/>
<path d="M319.25,436.84 L324.7,442.29 L319.25,447.74 L313.8,442.29 Z" fill="#64d43e"/>
<path d="M344.45,410.85 L349.9,416.3 L344.45,421.75 L339,416.3 Z" fill="#64d43e"/>
<path d="M382.25,374.48 L387.7,379.93 L382.25,385.38 L376.8,379.93 Z" fill="#64d43e"/>
<path d="M445.25,376.21 L450.7,381.66 L445.25,387.11 L439.8,381.66 Z" fill="#64d43e"/>
<circle cx="256.25" cy="494.25" r="3.05" fill="#ff0000"/>
<circle cx="319.25" cy="450.95" r="3.05" fill="#ff0000"/>
<circle cx="344.45" cy="433.62" r="3.05" fill="#ff0000"/>
<circle cx="382.25" cy="390.32" r="3.05" fill="#ff0000"/>
<circle cx="445.25" cy="388.59" r="3.05" fill="#ff0000"/>
<rect x="256.2" y="372.5" width="28.7" height="17.1" fill="#fff" stroke="#a0a0a0" stroke-width="1"/>
<line x1="259.5" y1="377.1" x2="271.6" y2="377.1" stroke="#64d43e" stroke-width="1"/>
<path d="M265.55,374.9 L267.75,377.1 L265.55,379.3 L263.35,377.1 Z" fill="#64d43e"/>
<text x="272.8" y="378.85" class="lg" textLength="10.27" lengthAdjust="spacingAndGlyphs">NIUR</text>
<line x1="259.5" y1="385.7" x2="271.6" y2="385.7" stroke="#ff0000" stroke-width="1.3" stroke-dasharray="1.2 1.6"/>
<circle cx="265.55" cy="385.7" r="2" fill="#ff0000"/>
<text x="272.8" y="387.45" class="lg" textLength="8.87" lengthAdjust="spacingAndGlyphs">NPR</text>
<text x="259.9" y="406.7" class="tmp">30°C</text>
<text x="349" y="527.5" class="nob" text-anchor="middle">NOB non-limited</text>
<text x="353" y="511.3" class="do" text-anchor="middle">DO set point [mgO<tspan font-size="4" dy="1.3">2</tspan><tspan dy="-1.3">/L]</tspan></text>
</g>
<text x="232.5" y="178.3" class="pl" text-anchor="middle">(a)</text>
<text x="232.5" y="363.1" class="pl" text-anchor="middle">(b)</text>
<text x="232.5" y="541.8" class="pl" text-anchor="middle">(c)</text>
</svg>
</body></html>
